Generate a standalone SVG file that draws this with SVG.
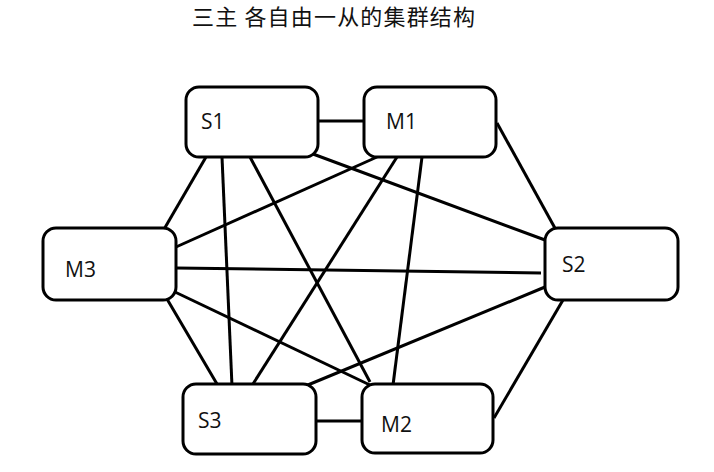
<svg xmlns="http://www.w3.org/2000/svg" width="714" height="472" viewBox="0 0 714 472">
<style>
.box{fill:#fff;stroke:#000;stroke-width:3}
.lbl{font-family:"Open Sans","Liberation Sans",sans-serif;font-size:21px;fill:#111}
.title{font-family:"Noto Sans CJK SC","Liberation Sans",sans-serif;font-size:22px;fill:#111}
#edges line{stroke:#000;stroke-width:3;stroke-linecap:butt}
</style>
<rect width="714" height="472" fill="#fff"/>
<text class="title" x="192" y="25" textLength="283">三主 各自由一从的集群结构</text>
<g id="edges">
<line x1="313" y1="121" x2="366" y2="121"/>
<line x1="316" y1="421" x2="364" y2="421"/>
<line x1="206" y1="157" x2="163" y2="231"/>
<line x1="222" y1="157" x2="232" y2="386"/>
<line x1="250" y1="157" x2="370" y2="382"/>
<line x1="313" y1="154" x2="545" y2="240"/>
<line x1="377" y1="157" x2="176" y2="247"/>
<line x1="397" y1="157" x2="253" y2="384"/>
<line x1="422" y1="157" x2="392" y2="393"/>
<line x1="176" y1="268" x2="541" y2="273"/>
<line x1="175" y1="292" x2="372" y2="386"/>
<line x1="167" y1="299" x2="217" y2="384"/>
<line x1="545" y1="287" x2="303" y2="387"/>
<line x1="497" y1="123" x2="556" y2="230"/>
<line x1="563" y1="300" x2="494" y2="418"/>
</g>
<g id="S1"><rect class="box" x="186" y="87" width="132" height="70" rx="13"/><text class="lbl" x="201" y="129">S1</text></g>
<g id="M1"><rect class="box" x="364" y="87" width="132" height="70" rx="13"/><text class="lbl" x="386" y="129">M1</text></g>
<g id="M3"><rect class="box" x="43" y="228" width="133" height="72" rx="13"/><text class="lbl" x="65" y="277">M3</text></g>
<g id="S2"><rect class="box" x="545" y="228" width="133" height="72" rx="13"/><text class="lbl" x="562" y="272">S2</text></g>
<g id="S3"><rect class="box" x="183" y="384" width="133" height="70" rx="13"/><text class="lbl" x="198" y="428">S3</text></g>
<g id="M2"><rect class="box" x="362" y="384" width="131" height="69" rx="13"/><text class="lbl" x="381" y="432">M2</text></g>
</svg>
